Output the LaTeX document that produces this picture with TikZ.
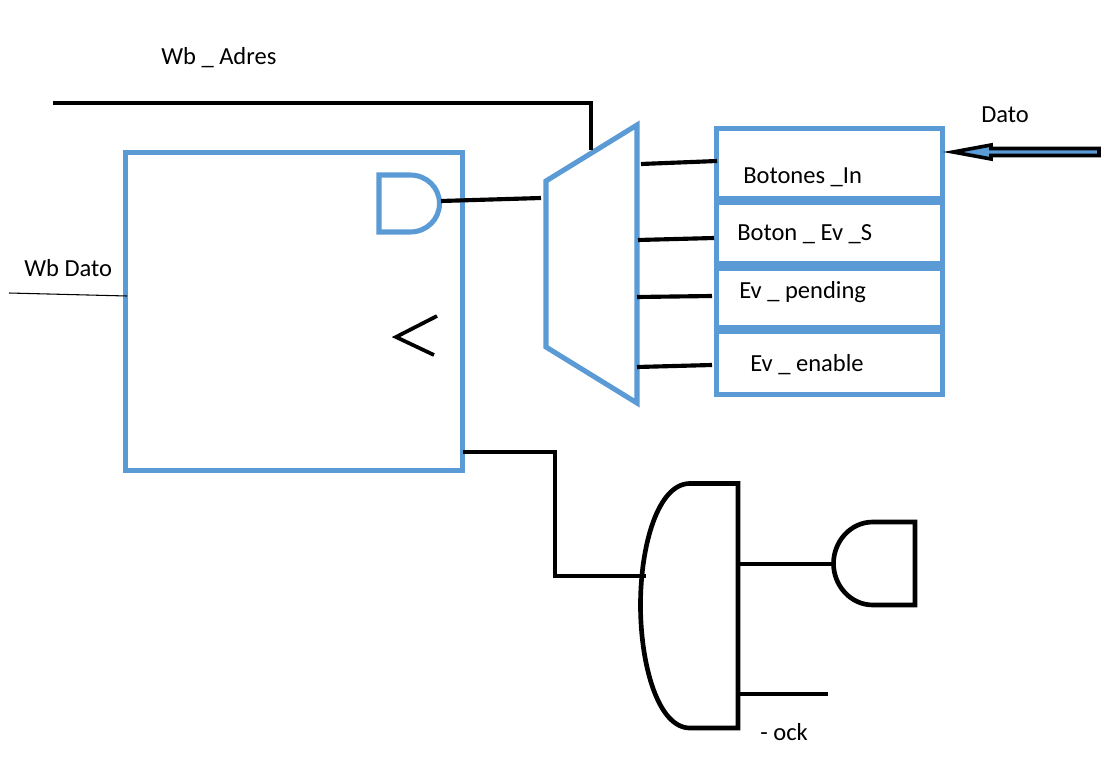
\documentclass[tikz,border=0pt]{standalone}
\usepackage{fontspec}
\setmainfont{Carlito}
\definecolor{regblue}{HTML}{5B9BD5}
\tikzset{
  bluebox/.style={draw=regblue,line width=3.8pt,inner sep=0pt,outer sep=0pt,anchor=north west,miter limit=10},
  blueshape/.style={draw=regblue,line width=3.8pt,line join=miter,miter limit=10},
  blackshape/.style={draw=black,line width=3.5pt,line join=miter},
  wire/.style={draw=black,line width=3.1pt},
  thinwire/.style={draw=black,line width=0.8pt},
  lbl/.style={anchor=base west,inner sep=0pt,font=\fontsize{18.4}{22}\selectfont},
}
\begin{document}
\begin{tikzpicture}[x=0.75pt,y=-0.75pt]
\useasboundingbox[fill=white] (0,0) rectangle (1115,771);
% registers and block
\node[bluebox,minimum width=252.8pt,minimum height=238.5pt] (main) at (125.4,152.4) {};
\node[bluebox,minimum width=169.5pt,minimum height=52.5pt] (r1) at (716.5,128.5) {};
\node[bluebox,minimum width=169.5pt,minimum height=45.75pt] (r2) at (716.5,202.5) {};
\node[bluebox,minimum width=169.5pt,minimum height=44.25pt] (r3) at (716.5,268.5) {};
\node[bluebox,minimum width=169.5pt,minimum height=46.9pt] (r4) at (716.5,331.5) {};
% mux
\draw[blueshape] (546,181) -- (637,125) -- (637,403) -- (546,347) -- cycle;
% blue flip-flop gate
\draw[blueshape] (379,175) -- (410,175) .. controls (427,175) and (439.5,188) .. (439.5,203.5) .. controls (439.5,219) and (427,232) .. (410,232) -- (379,232) -- cycle;
% clock mark
\draw[wire,line width=2.8pt,line join=miter] (437,316) -- (396,337) -- (434,355);
% coordinates for wire ends
\coordinate (adrS) at (53,103);
\coordinate (adrK) at (591,103);
\coordinate (adrE) at (591,150);
\coordinate (qS) at (441,201);
\coordinate (qE) at (541,198);
\coordinate (m1) at (641,164);\coordinate (e1) at (717,161);
\coordinate (m2) at (638,240);\coordinate (e2) at (714,238);
\coordinate (m3) at (637,297);\coordinate (e3) at (712,296);
\coordinate (m4) at (637,367);\coordinate (e4) at (712,365);
\coordinate (dS) at (9,293);\coordinate (dE) at (127,296);
\coordinate (oS) at (463,452);\coordinate (oK1) at (555,452);\coordinate (oK2) at (555,576);\coordinate (oE) at (646,576);
\coordinate (g1) at (738,564);\coordinate (g2) at (832,564);
\coordinate (c1) at (738,694);\coordinate (c2) at (828,694);
\draw[wire,line join=miter] (adrS) -- (adrK) -- (adrE);
\draw[wire] (qS) -- (qE);
\draw[wire] (m1) -- (e1);
\draw[wire] (m2) -- (e2);
\draw[wire] (m3) -- (e3);
\draw[wire] (m4) -- (e4);
\draw[thinwire] (dS) -- (dE);
\draw[wire,line join=miter] (oS) -- (oK1) -- (oK2) -- (oE);
\draw[wire] (g1) -- (g2);
\draw[wire] (c1) -- (c2);
% black gates
\draw[blackshape] (738,483.5) -- (690,483.5) .. controls (658,483.5) and (640.5,545) .. (640.5,605) .. controls (640.5,665) and (658,728) .. (690,728) -- (738,728) -- cycle;
\draw[blackshape] (915,522) -- (873,522) .. controls (850,522) and (833.5,542) .. (833.5,563.5) .. controls (833.5,585) and (850,605) .. (873,605) -- (915,605) -- cycle;
% input arrow
\draw[draw=black,fill=regblue,line width=2.7pt,line join=miter,miter limit=10] (1099,148.5) -- (991,148.5) -- (991,145) -- (953,152) -- (991,159) -- (991,155.5) -- (1099,155.5) -- cycle;
% labels
\node[lbl] (tadr) at (161,64) {Wb \_ Adres};
\node[lbl] (tdato) at (981,122) {Dato};
\node[lbl] (tr1) at (743,183) {Botones \_In};
\node[lbl] (tr2) at (737,240) {Boton \_ Ev \_S};
\node[lbl] (tr3) at (739,298) {Ev \_ pending};
\node[lbl] (tr4) at (750,371) {Ev \_ enable};
\node[lbl] (twb) at (24,276) {Wb Dato};
\node[lbl] (tck) at (760,740) {- ock};
\end{tikzpicture}
\end{document}
